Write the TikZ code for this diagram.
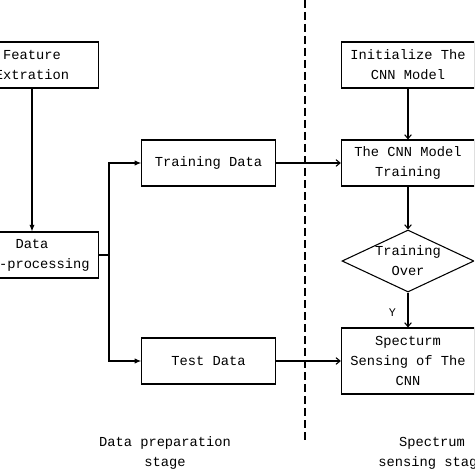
\documentclass[tikz,border=0pt]{standalone}
\usepackage{fontspec}
\setmainfont{Liberation Mono}
\usepackage{tikz}
\usetikzlibrary{arrows.meta,shapes.geometric}

\begin{document}
\begin{tikzpicture}[x=0.75pt,y=-0.75pt,
    every node/.style={font=\fontsize{10.3}{15}\selectfont}]
      \tikzstyle{box}=[draw,thick,minimum width=100pt,minimum height=34.5pt,
                       align=center,inner sep=1pt];
      \tikzstyle{tall}=[box,minimum height=49.5pt];
      \tikzstyle{test}=[diamond,draw,thick,aspect=2.1,inner sep=0pt,
                       minimum width=99pt,minimum height=46.5pt,align=center];
      \tikzstyle{fill arr}=[-{Latex[length=5pt,width=4pt]},thick];
      \tikzstyle{open arr}=[-{Straight Barb[length=3pt,width=5pt]},thick];
      \clip (0,0) rectangle (474,474);
      % data preparation stage
      \node[box]  (feat)  at (32,65)     {Feature\\Extration};
      \node[box]  (pre)   at (32,255)    {Data\\Pre-processing};
      \node[box]  (train) at (208.5,163) {Training Data};
      \node[box]  (test)  at (208.5,361) {Test Data};
      % spectrum sensing stage
      \node[box]  (init)  at (408,65)    {Initialize The\\CNN Model};
      \node[box]  (cnn)   at (408,163)   {The CNN Model\\Training};
      \node[test] (over)  at (408,261)   {Training\\Over};
      \node[tall] (spec)  at (408,361)   {Specturm\\Sensing of The\\CNN};
      \coordinate (split)  at (109,255);
      \coordinate (divtop) at (305,0);
      \coordinate (divbot) at (305,443);
      \draw[thick,dashed,dash pattern=on 6pt off 3pt] (divtop) -- (divbot);
      \draw[fill arr] (feat.south) -- (pre.north);
      \draw[thick] (pre.east) -- (split);
      \draw[fill arr] (split) |- (train.west);
      \draw[fill arr] (split) |- (test.west);
      \draw[open arr] (train.east) -- (cnn.west);
      \draw[open arr] (test.east) -- (spec.west);
      \draw[open arr] (init.south) -- (cnn.north);
      \draw[open arr] (cnn.south) -- (over.north);
      \draw[open arr] (over.south) -- node[left,xshift=-6pt,yshift=-2pt,scale=0.85]{Y} (spec.north);
      \node[align=center] (lprep) at (165,453) {Data preparation\\stage};
      \node[align=center] (lsens) at (432,453) {Spectrum\\sensing stage};
    \end{tikzpicture}
\end{document}
